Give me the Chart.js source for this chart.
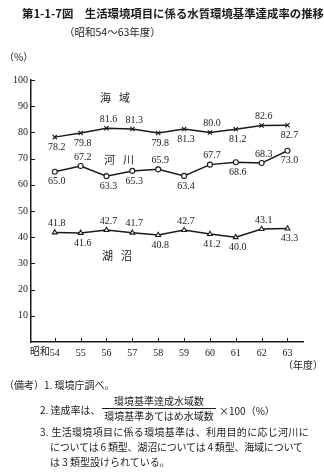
<!DOCTYPE html>
<html lang="ja">
<head>
<meta charset="utf-8">
<script src="https://cdn.jsdelivr.net/npm/chart.js@4/dist/chart.umd.min.js"></script>
<style>
  html, body { margin: 0; padding: 0; background: #fff; }
  #page { position: relative; width: 324px; height: 474px; overflow: hidden; color: #1a1a1a;
          font-family: "Noto Sans CJK JP", "Noto Sans", sans-serif; }
  #page canvas { position: absolute; left: 0; top: 0; }
  .t { position: absolute; line-height: 1; white-space: nowrap; }
  .title { font-size: 11.4px; font-weight: bold; }
  .note { font-size: 10px; }
  .name { font-size: 11px; letter-spacing: 8px; }
  .frac { position: absolute; left: 102px; top: 396px; width: 114px; font-size: 10px; text-align: center; line-height: 1; }
  .frac .num { padding-bottom: 2px; border-bottom: 1px solid #1a1a1a; }
  .frac .den { padding-top: 2px; }
</style>
</head>
<body>
<div id="page">
  <canvas id="chart" width="324" height="474"></canvas>

  <div class="t title" style="left:22px; top:8px;">第1-1-7図　生活環境項目に係る水質環境基準達成率の推移</div>
  <div class="t note" style="left:64px; top:27px; font-size:10.5px;">（昭和54～63年度）</div>
  <div class="t note" style="left:4px; top:52px;">（%）</div>

  <div class="t name" style="left:100px; top:92px;">海域</div>
  <div class="t name" style="left:104px; top:154px;">河川</div>
  <div class="t name" style="left:102px; top:250px;">湖沼</div>

  <div class="t note" style="left:30px; top:346px;">昭和</div>
  <div class="t note" style="left:283px; top:360px;">（年度）</div>

  <div class="t note" style="left:4px; top:380px;">（備考）1. 環境庁調べ。</div>
  <div class="t note" style="left:40px; top:405px;">2. 達成率は、</div>
  <div class="frac">
    <div class="num">環境基準達成水域数</div>
    <div class="den">環境基準あてはめ水域数</div>
  </div>
  <div class="t note" style="left:219px; top:406px;">×100（%）</div>
  <div class="t note" style="left:40px; top:427px; letter-spacing:0.3px;">3. 生活環境項目に係る環境基準は、利用目的に応じ河川に</div>
  <div class="t note" style="left:50px; top:442px; letter-spacing:-0.2px;">については 6 類型、湖沼については 4 類型、海域について</div>
  <div class="t note" style="left:50px; top:457px;">は 3 類型設けられている。</div>
</div>

<script>
// fiscal years (Showa era)
const YEARS = [54, 55, 56, 57, 58, 59, 60, 61, 62, 63];

// attainment rate (%) per water body type
const SEA = [78.2, 79.8, 81.6, 81.3, 79.8, 81.3, 80.0, 81.2, 82.6, 82.7];
const RIVER = [65.0, 67.2, 63.3, 65.3, 65.9, 63.4, 67.7, 68.6, 68.3, 73.0];
const LAKE = [41.8, 41.6, 42.7, 41.7, 40.8, 42.7, 41.2, 40.0, 43.1, 43.3];

const Y_TICKS = [10, 20, 30, 40, 50, 60, 70, 80, 90, 100];

// where each value label sits relative to its point: 'a' above, 'b' below
const SEA_SIDE = ['b', 'b', 'a', 'a', 'b', 'b', 'a', 'b', 'a', 'b'];
const RIVER_SIDE = ['b', 'a', 'b', 'b', 'a', 'b', 'a', 'b', 'a', 'b'];
const LAKE_SIDE = ['a', 'b', 'a', 'a', 'b', 'a', 'b', 'b', 'a', 'b'];

const INK = '#1a1a1a';
const NUM_FONT = '10px "Liberation Serif", "DejaVu Serif", serif';

function toPoints(values) {
    return YEARS.map((x, i) => ({ x, y: values[i] }));
}

function series(values, sides, pointStyle, radius) {
    return {
        data: toPoints(values),
        sides,
        borderColor: INK,
        borderWidth: 1.5,
        backgroundColor: '#fff',
        pointStyle,
        pointRadius: radius,
        pointBorderWidth: 1.1,
        pointBorderColor: INK,
        pointBackgroundColor: '#fff',
        tension: 0,
        fill: false,
    };
}

// short tick marks pointing into the plot area
const innerTicks = {
    id: 'innerTicks',
    afterDraw(chart) {
        const { ctx, chartArea, scales } = chart;
        ctx.save();
        ctx.strokeStyle = INK;
        ctx.lineWidth = 1;
        for (const v of Y_TICKS) {
            const y = Math.round(scales.y.getPixelForValue(v)) + 0.5;
            ctx.beginPath();
            ctx.moveTo(chartArea.left, y);
            ctx.lineTo(chartArea.left + 4, y);
            ctx.stroke();
        }
        for (const v of YEARS) {
            const x = Math.round(scales.x.getPixelForValue(v)) + 0.5;
            ctx.beginPath();
            ctx.moveTo(x, chartArea.bottom);
            ctx.lineTo(x, chartArea.bottom - 4);
            ctx.stroke();
        }
        ctx.restore();
    }
};

// value labels above or below each point
const valueLabels = {
    id: 'valueLabels',
    afterDatasetsDraw(chart) {
        const { ctx } = chart;
        ctx.save();
        ctx.font = NUM_FONT;
        ctx.fillStyle = INK;
        ctx.textAlign = 'center';
        ctx.textBaseline = 'middle';
        chart.data.datasets.forEach((ds, di) => {
            const meta = chart.getDatasetMeta(di);
            meta.data.forEach((pt, i) => {
                const dy = ds.sides[i] === 'a' ? -9 : 10;
                ctx.fillText(ds.data[i].y.toFixed(1), pt.x + 2, pt.y + dy);
            });
        });
        ctx.restore();
    }
};

new Chart(document.getElementById('chart'), {
    type: 'line',
    data: {
        datasets: [
            series(SEA, SEA_SIDE, 'crossRot', 3),
            series(RIVER, RIVER_SIDE, 'circle', 2.5),
            series(LAKE, LAKE_SIDE, 'triangle', 2.8),
        ]
    },
    options: {
        responsive: false,
        devicePixelRatio: 1,
        animation: false,
        layout: { padding: { top: 80, right: 21, left: 0, bottom: 0 } },
        plugins: {
            legend: { display: false },
            tooltip: { enabled: false },
        },
        scales: {
            x: {
                type: 'linear',
                min: 53.08,
                max: 63.6,
                afterFit: s => { s.height = 132; },
                afterBuildTicks: s => { s.ticks = YEARS.map(v => ({ value: v })); },
                grid: { drawOnChartArea: false, drawTicks: false },
                border: { display: true, color: INK, width: 1.5 },
                ticks: {
                    color: INK,
                    font: { size: 10, family: '"Liberation Serif", serif' },
                    padding: 5,
                    maxRotation: 0,
                    autoSkip: false,
                    callback: v => String(v),
                },
            },
            y: {
                min: 0,
                max: 100,
                afterFit: s => { s.width = 31; },
                afterBuildTicks: s => { s.ticks = Y_TICKS.map(v => ({ value: v })); },
                grid: { drawOnChartArea: false, drawTicks: false },
                border: { display: true, color: INK, width: 1.5 },
                ticks: {
                    color: INK,
                    font: { size: 10, family: '"Liberation Serif", serif' },
                    padding: 3,
                    callback: v => String(v),
                },
            },
        },
    },
    plugins: [innerTicks, valueLabels],
});
</script>
</body>
</html>
